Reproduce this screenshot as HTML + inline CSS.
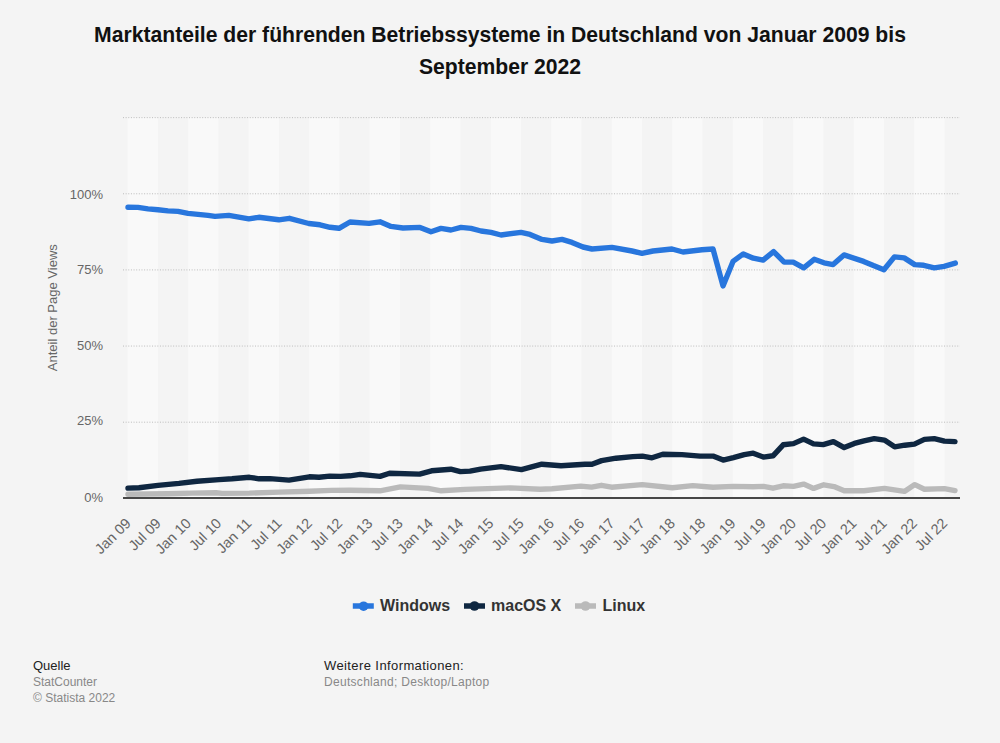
<!DOCTYPE html>
<html><head><meta charset="utf-8"><title>Marktanteile Betriebssysteme Deutschland</title>
<style>
html,body{margin:0;padding:0;width:1000px;height:743px;overflow:hidden;background:#f4f4f4;}
body{position:relative;font-family:"Liberation Sans",sans-serif;}
svg text{font-family:"Liberation Sans",sans-serif;}
.title{font-size:21.15px;font-weight:bold;fill:#111;}
.yl{font-size:13px;fill:#666;}
.yt{font-size:13px;fill:#666;}
.xl{font-size:14.5px;fill:#666;}
.lt{font-size:16px;font-weight:bold;fill:#333;}
.fh{font-size:13px;fill:#222;}
.fs{font-size:12px;fill:#888;}
.fh2{font-size:13px;fill:#222;letter-spacing:0.4px;}
.fs2{font-size:12px;fill:#888;letter-spacing:0.3px;}
</style></head><body>
<svg width="1000" height="743" viewBox="0 0 1000 743" style="position:absolute;left:0;top:0">
<g><rect x="127.75" y="117.63" width="30.25" height="380.67" fill="#f9f9f9"/><rect x="188.24" y="117.63" width="30.25" height="380.67" fill="#f9f9f9"/><rect x="248.74" y="117.63" width="30.25" height="380.67" fill="#f9f9f9"/><rect x="309.23" y="117.63" width="30.25" height="380.67" fill="#f9f9f9"/><rect x="369.73" y="117.63" width="30.25" height="380.67" fill="#f9f9f9"/><rect x="430.22" y="117.63" width="30.25" height="380.67" fill="#f9f9f9"/><rect x="490.71" y="117.63" width="30.25" height="380.67" fill="#f9f9f9"/><rect x="551.21" y="117.63" width="30.25" height="380.67" fill="#f9f9f9"/><rect x="611.70" y="117.63" width="30.25" height="380.67" fill="#f9f9f9"/><rect x="672.20" y="117.63" width="30.25" height="380.67" fill="#f9f9f9"/><rect x="732.69" y="117.63" width="30.25" height="380.67" fill="#f9f9f9"/><rect x="793.18" y="117.63" width="30.25" height="380.67" fill="#f9f9f9"/><rect x="853.68" y="117.63" width="30.25" height="380.67" fill="#f9f9f9"/><rect x="914.17" y="117.63" width="30.25" height="380.67" fill="#f9f9f9"/></g>
<g><line x1="123" y1="117.63" x2="960" y2="117.63" stroke="#bcbcbc" stroke-width="1" stroke-dasharray="1,1.64"/><line x1="123" y1="193.76999999999998" x2="960" y2="193.76999999999998" stroke="#bcbcbc" stroke-width="1" stroke-dasharray="1,1.64"/><line x1="123" y1="269.90999999999997" x2="960" y2="269.90999999999997" stroke="#bcbcbc" stroke-width="1" stroke-dasharray="1,1.64"/><line x1="123" y1="346.05" x2="960" y2="346.05" stroke="#bcbcbc" stroke-width="1" stroke-dasharray="1,1.64"/><line x1="123" y1="422.19" x2="960" y2="422.19" stroke="#bcbcbc" stroke-width="1" stroke-dasharray="1,1.64"/></g>
<line x1="123" y1="498" x2="960" y2="498" stroke="#474747" stroke-width="2"/>
<g fill="none" stroke-linecap="round" stroke-linejoin="round" stroke-width="5.4">
<path d="M128.0 494.2 L168.0 493.8 L192.0 493.1 L216.0 492.8 L222.0 493.4 L249.4 493.1 L279.4 492.1 L309.4 491.2 L331.0 490.4 L350.0 490.2 L380.0 490.8 L400.4 486.9 L428.0 488.4 L441.2 490.8 L465.0 489.4 L510.6 487.9 L540.0 489.2 L552.0 488.8 L580.8 486.1 L591.6 487.1 L601.4 485.3 L611.6 487.2 L642.2 484.6 L672.4 487.8 L692.8 485.6 L713.0 487.3 L733.4 486.4 L753.2 486.8 L763.4 486.4 L773.0 488.2 L783.2 485.8 L793.4 486.4 L803.6 484.1 L813.6 488.4 L823.8 484.8 L834.0 486.6 L844.2 490.8 L864.0 490.8 L884.4 488.4 L904.4 491.4 L914.8 484.6 L924.4 489.2 L944.4 488.6 L955.0 490.6" stroke="#bababa"/>
<path d="M128.0 488.1 L139.0 487.8 L158.0 485.4 L179.0 483.4 L197.0 481.2 L219.0 479.6 L232.0 478.8 L249.4 477.3 L259.0 478.8 L269.8 478.6 L289.0 480.1 L309.4 476.8 L319.0 477.2 L329.8 476.1 L340.6 476.4 L350.0 475.8 L360.2 474.4 L380.0 476.4 L389.6 473.2 L419.6 474.1 L431.6 470.8 L450.8 469.2 L460.4 471.6 L470.0 471.1 L480.6 469.1 L501.0 466.6 L521.4 469.6 L541.8 464.2 L561.0 465.8 L585.0 464.2 L592.0 464.2 L601.6 460.6 L616.0 458.2 L632.8 456.6 L642.4 456.1 L652.0 457.8 L662.8 454.2 L682.0 454.6 L700.0 456.1 L713.0 456.1 L723.2 460.1 L733.4 457.6 L744.2 454.6 L753.2 453.2 L763.4 457.1 L773.0 455.8 L783.2 444.8 L793.4 443.6 L803.6 439.1 L813.5 443.9 L823.2 444.6 L833.4 441.6 L844.2 447.6 L854.4 443.4 L864.0 440.8 L874.2 438.6 L884.4 440.1 L894.6 446.8 L904.8 445.2 L914.4 444.1 L924.4 439.4 L934.3 438.6 L944.4 441.1 L955.0 441.6" stroke="#0f2741"/>
<path d="M128.0 207.2 L138.0 207.4 L148.0 208.9 L158.0 209.8 L168.0 210.9 L178.0 211.4 L188.0 213.4 L198.0 214.4 L208.0 215.4 L215.0 216.4 L228.8 215.4 L248.8 218.9 L258.8 217.3 L278.8 219.8 L289.4 218.3 L308.8 223.5 L320.0 224.8 L330.0 227.3 L339.0 228.3 L350.0 222.0 L369.0 223.4 L380.0 221.8 L391.0 226.4 L403.0 228.0 L420.0 227.4 L431.0 231.8 L441.0 228.4 L451.0 230.0 L461.0 227.4 L471.0 228.4 L481.0 231.0 L491.0 232.4 L501.0 235.0 L521.0 232.4 L530.0 234.4 L542.0 239.4 L552.0 241.0 L562.0 239.4 L572.0 242.4 L583.0 247.0 L592.0 249.0 L612.0 247.4 L632.0 251.0 L642.0 253.4 L653.0 251.0 L672.0 249.0 L683.0 252.0 L702.0 249.8 L713.0 249.0 L723.0 285.9 L733.0 261.4 L743.3 253.9 L753.3 258.2 L763.1 260.1 L773.6 251.6 L784.1 262.1 L793.2 262.1 L803.7 267.8 L814.2 259.3 L824.0 262.8 L833.1 264.6 L844.0 254.9 L863.6 261.4 L873.4 265.6 L883.9 269.8 L894.4 256.9 L904.2 257.9 L914.7 264.6 L923.8 265.3 L934.3 267.8 L944.1 266.3 L955.3 263.1" stroke="#2876dd"/>
</g>
<g><text x="103" y="199" text-anchor="end" class="yl">100%</text><text x="103" y="273.8" text-anchor="end" class="yl">75%</text><text x="103" y="349.8" text-anchor="end" class="yl">50%</text><text x="103" y="424.9" text-anchor="end" class="yl">25%</text><text x="103" y="501.9" text-anchor="end" class="yl">0%</text></g>
<text transform="translate(56.7,307.7) rotate(-90)" text-anchor="middle" class="yt">Anteil der Page Views</text>
<g><text transform="translate(131.6,524.2) rotate(-45)" text-anchor="end" class="xl">Jan 09</text><text transform="translate(161.8,524.2) rotate(-45)" text-anchor="end" class="xl">Jul 09</text><text transform="translate(192.0,524.2) rotate(-45)" text-anchor="end" class="xl">Jan 10</text><text transform="translate(222.3,524.2) rotate(-45)" text-anchor="end" class="xl">Jul 10</text><text transform="translate(252.5,524.2) rotate(-45)" text-anchor="end" class="xl">Jan 11</text><text transform="translate(282.8,524.2) rotate(-45)" text-anchor="end" class="xl">Jul 11</text><text transform="translate(313.0,524.2) rotate(-45)" text-anchor="end" class="xl">Jan 12</text><text transform="translate(343.3,524.2) rotate(-45)" text-anchor="end" class="xl">Jul 12</text><text transform="translate(373.5,524.2) rotate(-45)" text-anchor="end" class="xl">Jan 13</text><text transform="translate(403.8,524.2) rotate(-45)" text-anchor="end" class="xl">Jul 13</text><text transform="translate(434.0,524.2) rotate(-45)" text-anchor="end" class="xl">Jan 14</text><text transform="translate(464.3,524.2) rotate(-45)" text-anchor="end" class="xl">Jul 14</text><text transform="translate(494.5,524.2) rotate(-45)" text-anchor="end" class="xl">Jan 15</text><text transform="translate(524.8,524.2) rotate(-45)" text-anchor="end" class="xl">Jul 15</text><text transform="translate(555.0,524.2) rotate(-45)" text-anchor="end" class="xl">Jan 16</text><text transform="translate(585.3,524.2) rotate(-45)" text-anchor="end" class="xl">Jul 16</text><text transform="translate(615.5,524.2) rotate(-45)" text-anchor="end" class="xl">Jan 17</text><text transform="translate(645.7,524.2) rotate(-45)" text-anchor="end" class="xl">Jul 17</text><text transform="translate(676.0,524.2) rotate(-45)" text-anchor="end" class="xl">Jan 18</text><text transform="translate(706.2,524.2) rotate(-45)" text-anchor="end" class="xl">Jul 18</text><text transform="translate(736.5,524.2) rotate(-45)" text-anchor="end" class="xl">Jan 19</text><text transform="translate(766.7,524.2) rotate(-45)" text-anchor="end" class="xl">Jul 19</text><text transform="translate(797.0,524.2) rotate(-45)" text-anchor="end" class="xl">Jan 20</text><text transform="translate(827.2,524.2) rotate(-45)" text-anchor="end" class="xl">Jul 20</text><text transform="translate(857.5,524.2) rotate(-45)" text-anchor="end" class="xl">Jan 21</text><text transform="translate(887.7,524.2) rotate(-45)" text-anchor="end" class="xl">Jul 21</text><text transform="translate(918.0,524.2) rotate(-45)" text-anchor="end" class="xl">Jan 22</text><text transform="translate(948.2,524.2) rotate(-45)" text-anchor="end" class="xl">Jul 22</text></g>
<text x="500" y="42" text-anchor="middle" class="title">Marktanteile der führenden Betriebssysteme in Deutschland von Januar 2009 bis</text>
<text x="500" y="74" text-anchor="middle" class="title">September 2022</text>
<g class="leg">
<line x1="352.8" y1="606" x2="373.8" y2="606" stroke="#2876dd" stroke-width="5.5"/>
<circle cx="363.6" cy="606.2" r="4.8" fill="#2876dd"/>
<text x="380" y="611" class="lt">Windows</text>
<line x1="464" y1="606" x2="485" y2="606" stroke="#0f2741" stroke-width="5.5"/>
<circle cx="474.5" cy="606" r="4.8" fill="#0f2741"/>
<text x="491" y="611" class="lt">macOS X</text>
<line x1="575" y1="606" x2="596" y2="606" stroke="#bababa" stroke-width="5.5"/>
<circle cx="585.5" cy="606" r="4.8" fill="#bababa"/>
<text x="602.5" y="611" class="lt">Linux</text>
</g>
<text x="33" y="670" class="fh">Quelle</text>
<text x="33" y="686" class="fs">StatCounter</text>
<text x="33" y="701.5" class="fs">© Statista 2022</text>
<text x="324" y="670" class="fh2">Weitere Informationen:</text>
<text x="324" y="686" class="fs2">Deutschland; Desktop/Laptop</text>
</svg>
</body></html>
